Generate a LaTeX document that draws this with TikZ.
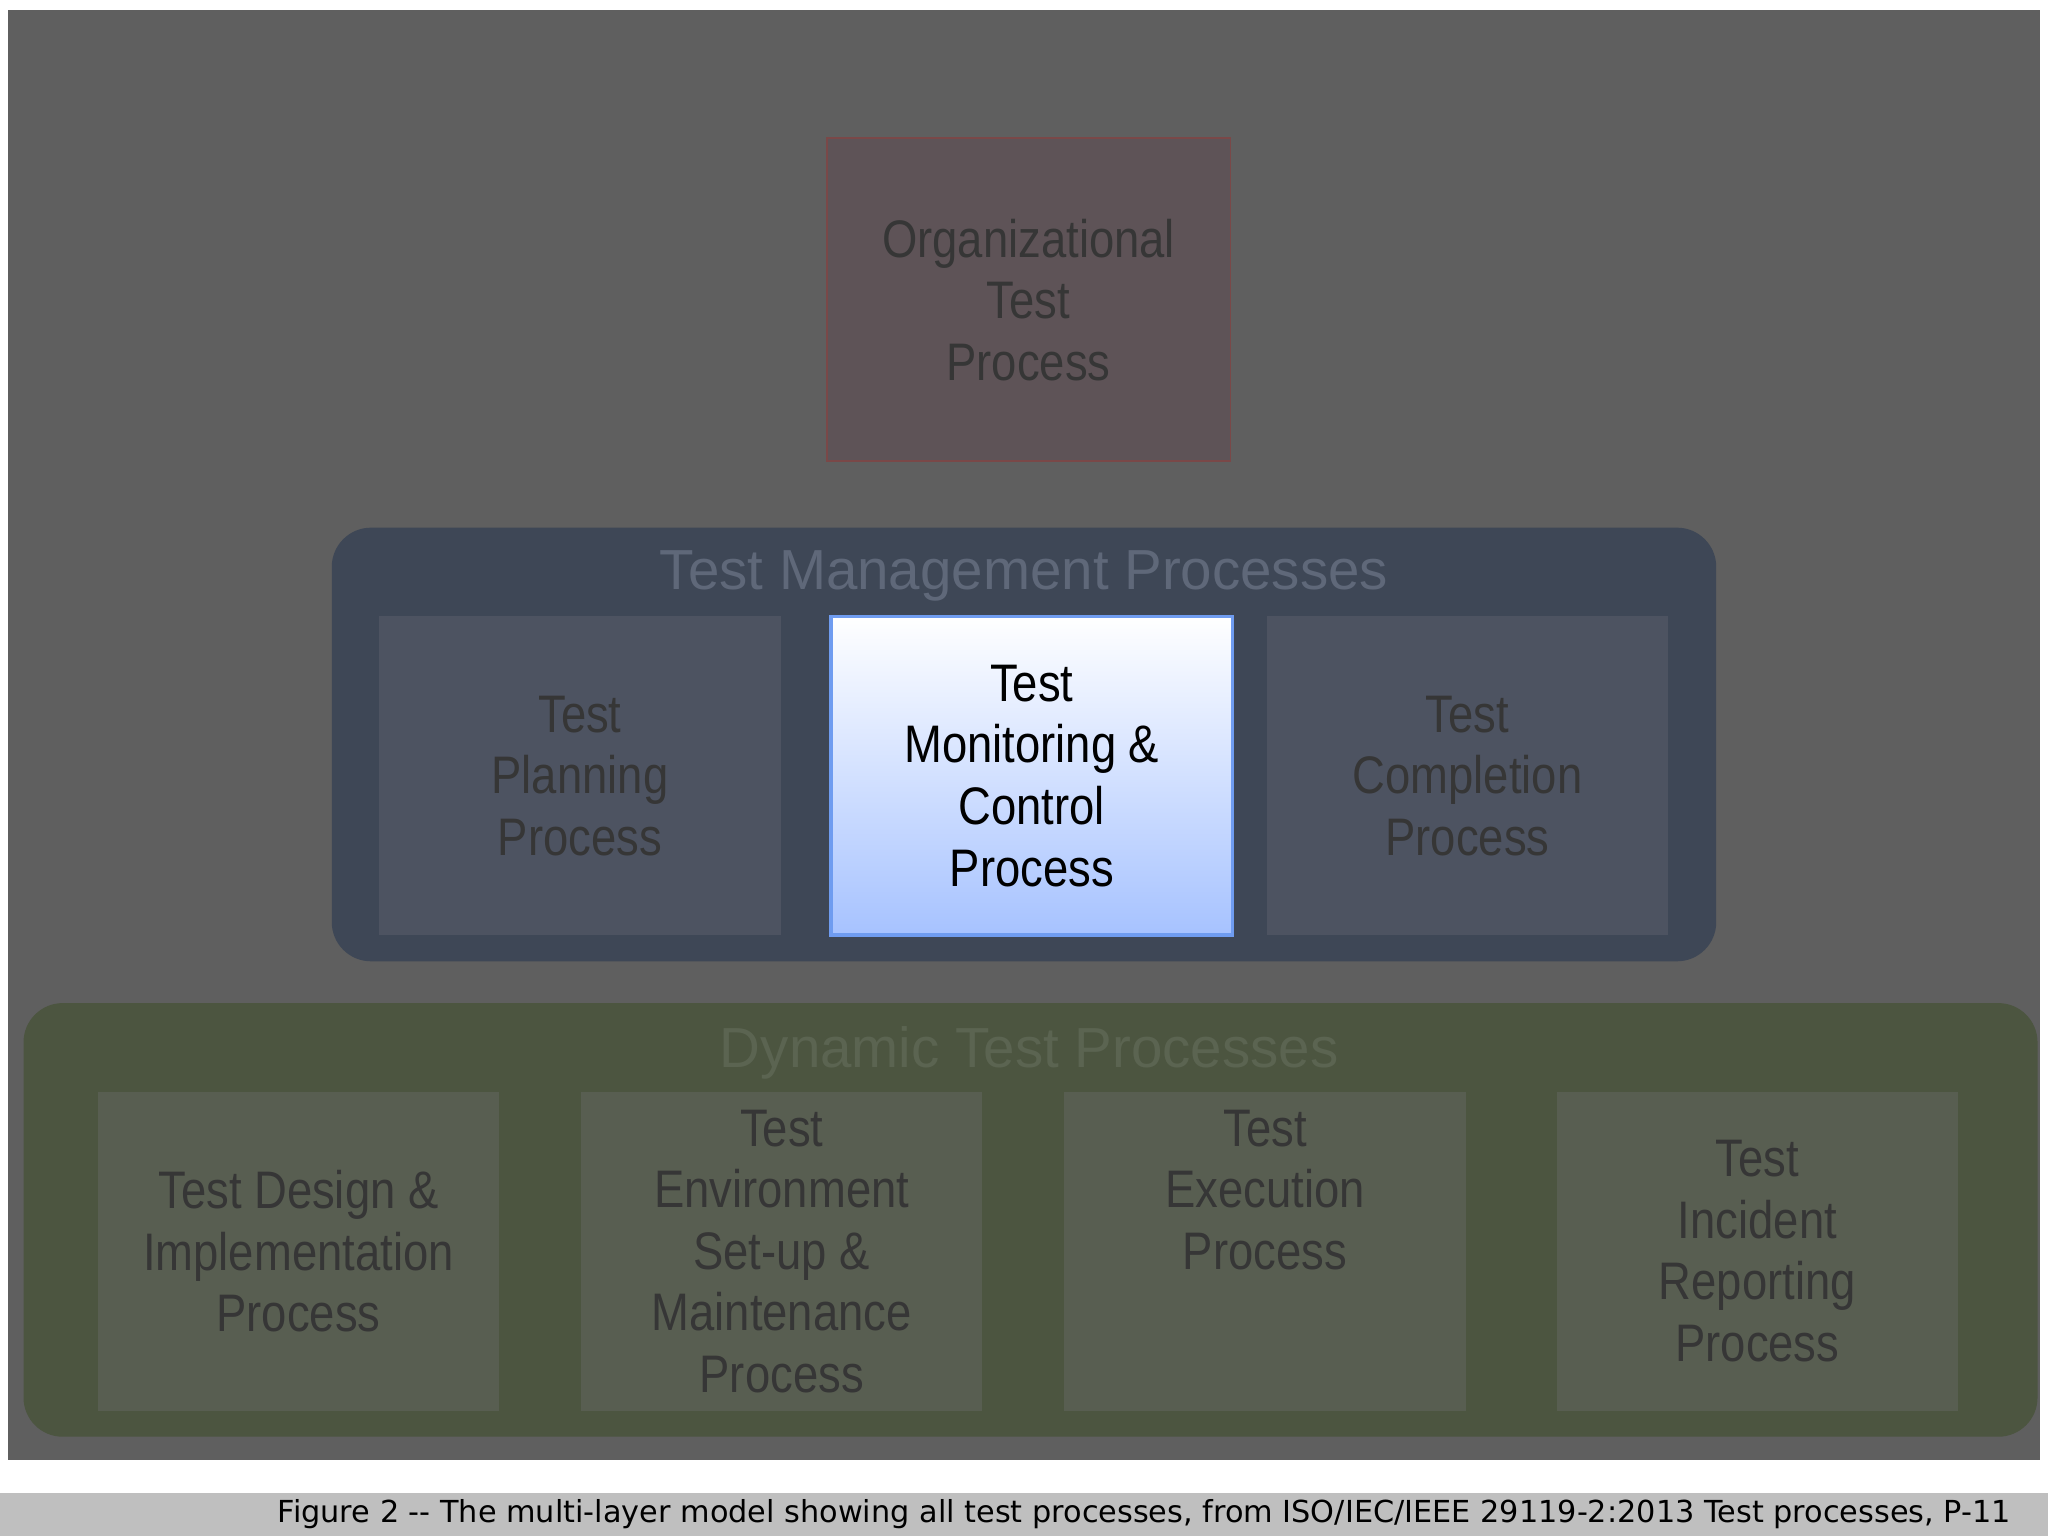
\documentclass[tikz,border=0pt]{standalone}
\usepackage{fontspec}
\setmainfont{Liberation Sans}
\newfontfamily\narrowf{Liberation Sans}[FakeStretch=0.86]
\newfontfamily\capf{DejaVu Sans}
\definecolor{panel}{HTML}{5F5F5F}
\definecolor{orgfill}{HTML}{5E5357}
\definecolor{orgline}{HTML}{7A4848}
\definecolor{mgmt}{HTML}{3E4756}
\definecolor{mgmttitle}{HTML}{5F6879}
\definecolor{mbox}{HTML}{4D5361}
\definecolor{dyn}{HTML}{4C5540}
\definecolor{dyntitle}{HTML}{5B6451}
\definecolor{dbox}{HTML}{585E51}
\definecolor{dimtext}{HTML}{363636}
\definecolor{hiline}{HTML}{6F9CF0}
\definecolor{hibot}{HTML}{A6C2FF}
\tikzset{x=0.01cm,y=-0.01cm,
 proc/.style={minimum width=3.07cm,minimum height=2.44cm,align=center,font=\narrowf\fontsize{11.5}{13.4}\selectfont,text=dimtext},
 mproc/.style={proc,fill=mbox},
 dproc/.style={proc,fill=dbox},
 grp/.style={rounded corners=0.3cm}}
\begin{document}
\begin{tikzpicture}
\useasboundingbox (0,0) rectangle (1568,1176);
\fill[white] (0,0) rectangle (1568,1176);
\fill[panel] (6,8) rectangle (1562,1118);
\fill[black!25] (0,1143) rectangle (1568,1176);
\node[anchor=east,font=\capf\fontsize{6.6}{8}\selectfont,text=black] (cap) at (1552,1159) {Figure 2 -- The multi-layer model showing all test processes, from ISO/IEC/IEEE 29119-2:2013 Test processes, P-11};
\node[proc,fill=orgfill,draw=orgline,minimum width=3.09cm,minimum height=2.47cm] (org) at (787.5,229.5) {Organizational\\Test\\Process};
\fill[grp,mgmt] (254,404) rectangle (1314,736);
\node[font=\fontsize{12.3}{14}\selectfont,text=mgmttitle] (mt) at (784,441) {Test Management Processes};
\node[mproc] (tp) at (444,594) {Test\\Planning\\Process};
\shade[top color=white,bottom color=hibot] (636,471) rectangle (944,717);
\node[proc,draw=hiline,line width=0.8pt,text=black] (tmc) at (790,594) {Test\\Monitoring \&\\Control\\Process};
\node[mproc] (tc) at (1123.5,594) {Test\\Completion\\Process};
\fill[grp,dyn] (18,768) rectangle (1560,1100);
\node[font=\fontsize{12.3}{14}\selectfont,text=dyntitle] (dt) at (788,806) {Dynamic Test Processes};
\node[dproc] (d1) at (228.5,958) {Test Design \&\\Implementation\\Process};
\node[dproc] (d2) at (598.5,958) {Test\\Environment\\Set-up \&\\Maintenance\\Process};
\node[dproc] (d3) at (968.5,958) {Test\\Execution\\Process\\[13.4pt]};
\node[dproc] (d4) at (1345.5,958) {Test\\Incident\\Reporting\\Process};
\end{tikzpicture}
\end{document}
